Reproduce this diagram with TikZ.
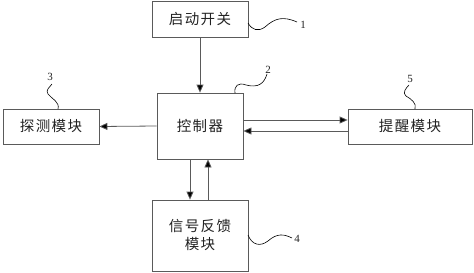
\documentclass[tikz,border=0pt]{standalone}
\usepackage{fontspec}
\setmainfont{Liberation Serif}
\newfontfamily\cjk[LetterSpace=10]{Noto Sans CJK SC}
\usetikzlibrary{arrows.meta}
\definecolor{ln}{HTML}{5A5A5A}
\definecolor{tx}{HTML}{222222}
\begin{document}
\begin{tikzpicture}[x=1pt,y=-1pt,
  box/.style={draw=ln,line width=0.8pt,minimum width=#1,inner sep=0pt,font=\cjk\fontsize{14.5}{18}\selectfont,text=tx,align=center},
  arr/.style={draw=ln,line width=0.8pt,-{Triangle[length=8pt,width=7pt,fill=black]}},
  sq/.style={draw=black,line width=0.6pt},
  num/.style={font=\fontsize{11}{12}\selectfont,text=tx,inner sep=0pt}]
\useasboundingbox (0,0) rectangle (474,273);
\node[box=96pt,minimum height=36pt] (top) at (200,19) {启动开关};
\node[box=86pt,minimum height=66pt] (ctrl) at (200,126) {控制器};
\node[box=96pt,minimum height=35pt] (det) at (51,126.5) {探测模块};
\node[box=124pt,minimum height=35pt] (rem) at (410,126.5) {提醒模块};
\node[box=96pt,minimum height=71pt] (fb) at (200,235.5) {信号反馈\\模块};
% connectors
\draw[arr] (top.south) -- (ctrl.north);
\draw[arr] (ctrl.west) -- (det.east);
\draw[arr] (ctrl.east |- 0,120) -- (rem.west |- 0,120);
\draw[arr] (rem.west |- 0,131) -- (ctrl.east |- 0,131);
\draw[arr] (ctrl.south -| 190,0) -- (fb.north -| 190,0);
\draw[arr] (fb.north -| 208,0) -- (ctrl.south -| 208,0);
% labels
\node[num] (n1) at (303,25) {1};
\node[num] (n2) at (268,70) {2};
\node[num] (n3) at (50,77) {3};
\node[num] (n5) at (410,79) {5};
\node[num] (n4) at (297,239) {4};
% squiggles
\coordinate (s1) at (248,23);
\coordinate (s2) at (235,93);
\coordinate (s3) at (58,109);
\coordinate (s5) at (415,109);
\coordinate (s4) at (248,235);
\draw[sq] (s1) .. controls (252,30) and (258,32) .. (265,27) .. controls (275,18) and (283,16) .. (297,22);
\draw[sq] (s2) .. controls (234,86) and (238,82) .. (246,85) .. controls (258,88) and (264,84) .. (267,74);
\draw[sq] (s3) .. controls (60,102) and (52,99) .. (48,94) .. controls (45,90) and (50,87) .. (52,84);
\draw[sq] (s5) .. controls (417,103) and (411,99) .. (406,96) .. controls (402,93) and (406,88) .. (409,85);
\draw[sq] (s4) .. controls (252,245) and (260,247) .. (268,241) .. controls (277,233) and (284,234) .. (292,238);
\end{tikzpicture}
\end{document}
